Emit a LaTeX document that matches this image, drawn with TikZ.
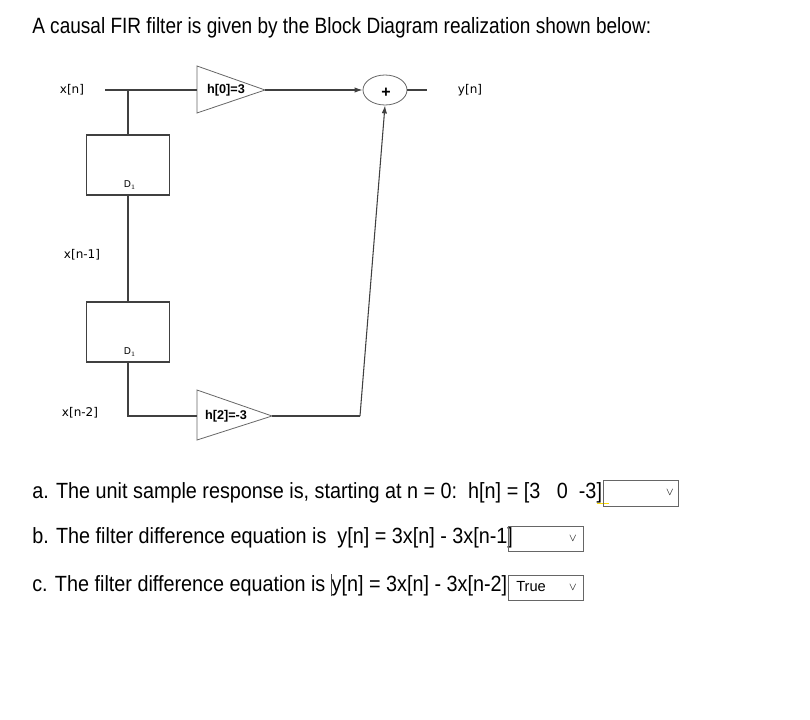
\documentclass[tikz,border=0pt]{standalone}
\usepackage{fontspec}
\setmainfont{Liberation Sans}
\newfontfamily\narrow[FakeStretch=0.9]{Liberation Sans}
\newfontfamily\narrowt[FakeStretch=0.86]{Liberation Sans}
\newfontfamily\dv{DejaVu Sans}
\usetikzlibrary{arrows.meta,shapes.geometric}
\begin{document}
\begin{tikzpicture}[x=0.75pt,y=-0.75pt,
  lbl/.style={font=\dv\fontsize{9}{10}\selectfont, inner sep=0},
  wire/.style={draw=black!75, line width=0.8pt},
  gainlbl/.style={font=\bfseries\fontsize{9.5}{10}\selectfont, inner sep=0},
  txt/.style={font=\narrow\fontsize{16.5}{18}\selectfont, anchor=west, inner sep=0},
  dbox/.style={draw=black!75, line width=0.8pt, minimum width=83*0.75pt, minimum height=60*0.75pt}]
\useasboundingbox (0,0) rectangle (810,720);
\node[txt, font=\narrowt\fontsize{16.6}{18}\selectfont] (title) at (32,28) {A causal FIR filter is given by the Block Diagram realization shown below:};
% labels
\node[lbl] (xn) at (72,90) {x[n]};
\node[lbl] (xn1) at (82,255) {x[n-1]};
\node[lbl] (xn2) at (80,413) {x[n-2]};
\node[lbl] (yn) at (470,90) {y[n]};
% junction coords
\coordinate (in) at (105,90);
\coordinate (j0) at (128,90);
\coordinate (j2) at (128,416);
\coordinate (bend) at (360,416);
\coordinate (yo) at (427,90);
% delay boxes
\node[dbox] (d1) at (128,165) {};
\node[lbl, font=\dv\fontsize{7}{8}\selectfont] (d1l) at (130,185) {D$_1$};
\node[dbox] (d2) at (128,332) {};
\node[lbl, font=\dv\fontsize{7}{8}\selectfont] (d2l) at (130,352) {D$_1$};
% gains
\draw[draw=black!60, line width=0.6pt] (197,66) -- (265,90) -- (197,113) -- cycle;
\coordinate (g0l) at (197,90); \coordinate (g0r) at (265,90);
\node[gainlbl] (g0) at (226,90) {h[0]=3};
\draw[draw=black!60, line width=0.6pt] (197,390) -- (272,416) -- (197,440) -- cycle;
\coordinate (g2l) at (197,416); \coordinate (g2r) at (272,416);
\node[gainlbl] (g2) at (226,416) {h[2]=-3};
% adder
\node[draw=black!60, line width=0.6pt, ellipse, minimum width=22*0.75pt*2, minimum height=15*0.75pt*2, inner sep=0] (sum) at (385,90) {};
\node[font=\bfseries\fontsize{12}{12}\selectfont, inner sep=0] (plus) at (386,93) {+};
% wires
\draw[wire] (in) -- (g0l);
\draw[wire, -{Latex[length=6pt,width=4pt]}] (g0r) -- (sum.west);
\draw[wire] (sum.east) -- (yo);
\draw[wire] (j0) -- (d1.north);
\draw[wire] (d1.south) -- (d2.north);
\draw[wire] (d2.south) -- (j2) -- (g2l);
\draw[wire] (g2r) -- (bend);
\draw[wire, -{Latex[length=6pt,width=4pt]}] (bend) -- (sum.south);
% questions
\node[txt] (qa) at (32,493) {a. The unit sample response is, starting at n = 0:~~h[n] = [3~~~0~~-3\rlap{\color{yellow!80!orange}\rule[-4pt]{9pt}{0.8pt}}]};
\node[txt] (qb) at (32,538) {b. The filter difference equation is~~y[n] = 3x[n] - 3x[n-1]};
\node[txt] (qc) at (32,585) {c. The filter difference equation is {\color{black!70}\rule[-4pt]{0.6pt}{17pt}}y[n] = 3x[n] - 3x[n-2]};
% dropdowns
\node[draw=black!60, line width=0.6pt, minimum width=75*0.75pt, minimum height=26*0.75pt, inner sep=0] (dda) at (640.5,493) {};
\node[font=\fontsize{8}{8}\selectfont, inner sep=0] (ca) at (670,493) {$\vee$};
\node[draw=black!60, line width=0.6pt, minimum width=75*0.75pt, minimum height=25*0.75pt, inner sep=0] (ddb) at (545.5,538.5) {};
\node[font=\fontsize{8}{8}\selectfont, inner sep=0] (cb) at (573,539) {$\vee$};
\node[draw=black!60, line width=0.6pt, minimum width=75*0.75pt, minimum height=25*0.75pt, inner sep=0] (ddc) at (545.5,587.5) {};
\node[font=\fontsize{11}{12}\selectfont, anchor=west, inner sep=0] (tr) at (516,587) {True};
\node[font=\fontsize{8}{8}\selectfont, inner sep=0] (cc) at (573,588) {$\vee$};
\end{tikzpicture}
\end{document}
